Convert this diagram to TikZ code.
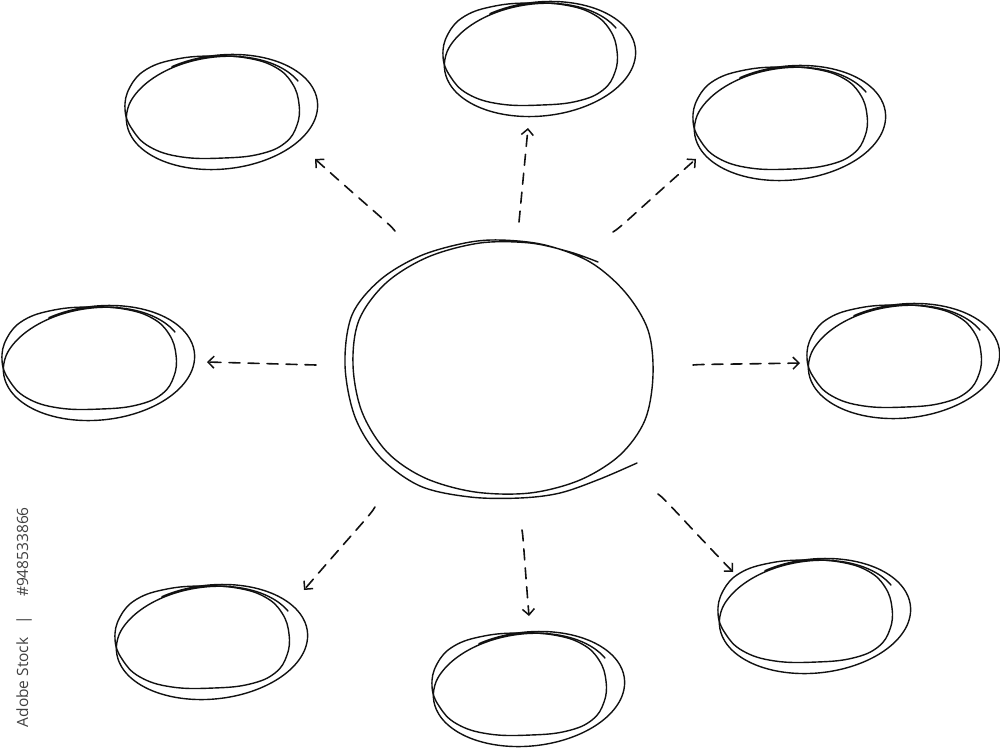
\documentclass[tikz,border=0pt]{standalone}
\usepackage{fontspec}
\newfontfamily\wmfont{Open Sans}
\usetikzlibrary{arrows.meta,shapes.geometric,calc}
\definecolor{inkc}{HTML}{111111}
\definecolor{wmgray}{HTML}{404040}
\tikzset{
  ink/.style={draw=inkc, line width=1.4pt, line cap=round, line join=round},
  oval/.style={ellipse, draw=none, minimum width=174pt, minimum height=102pt, inner sep=0pt},
  hubshape/.style={ellipse, draw=none, minimum width=305pt, minimum height=256pt, inner sep=0pt},
  dasharrow/.style={draw=inkc, line width=1.6pt, line cap=round, dash pattern=on 11pt off 8pt,
     -{Straight Barb[length=6pt,width=12pt,line width=1.5pt]}},
  sketchoval/.pic={
    \draw[ink] plot[smooth cycle, tension=0.7] coordinates {
      (-87,2) (-82,-20) (-65,-38) (-35,-48) (0,-51) (35,-49) (63,-40) (80,-24) (87,-3)
      (85,18) (73,36) (48,47) (12,51) (-30,50) (-62,40) (-80,22)};
    \draw[ink] plot[domain=-118:335, samples=110, smooth, variable=\t]
      ({10 + 0.9945*(96-0.067*max(0,\t-200))*cos(\t) + 0.1045*(57-0.022*max(0,\t-200))*sin(\t)},
       {5 - 0.1045*(96-0.067*max(0,\t-200))*cos(\t) + 0.9945*(57-0.022*max(0,\t-200))*sin(\t)});
  }
}
\newcommand{\hookarrow}[3]{%
  \draw[dasharrow] (#1) .. controls ($(#1)!0.08!#3:(#2)$) and ($(#1)!0.3!(#2)$) .. (#2);}
\begin{document}
\begin{tikzpicture}[x=1pt,y=-1pt]
\useasboundingbox (0,0) rectangle (1000,749);
\clip (0,0) rectangle (1000,749);

% hub
\node[hubshape] (hub) at (500,370) {};
\draw[ink] plot[smooth, tension=0.55] coordinates {
  (637,463) (600,479) (560,493) (520,498) (470,497) (420,486) (380,457) (355,417)
  (345,365) (352,315) (380,280) (420,256) (465,243) (500,240) (545,245) (590,262)
  (625,292) (648,330) (653,375) (645,420) (620,455) (580,480) (530,493) (475,492)
  (425,478) (387,452) (362,412) (353,365) (359,320) (386,283) (428,257) (480,243)
  (530,243) (570,252) (598,262)};

% satellite ovals
\node[oval] (tl) at (212,107) {};
\node[oval] (tc) at (530,54) {};
\node[oval] (tr) at (780,118) {};
\node[oval] (ml) at (89,358) {};
\node[oval] (mr) at (894,356) {};
\node[oval] (bl) at (202,637) {};
\node[oval] (bc) at (519,684) {};
\node[oval] (br) at (805,611) {};
\foreach \n in {tl,tc,tr,ml,mr,bl,bc,br} { \pic at (\n.center) {sketchoval}; }

% arrow end points
\coordinate (tlA) at (395,231); \coordinate (tlB) at (315,159);
\coordinate (tcA) at (519,222); \coordinate (tcB) at (528,128);
\coordinate (trA) at (613,232); \coordinate (trB) at (696,159);
\coordinate (mlA) at (316,365); \coordinate (mlB) at (207,362);
\coordinate (mrA) at (693,365); \coordinate (mrB) at (800,363);
\coordinate (blA) at (375,507); \coordinate (blB) at (304,590);
\coordinate (bcA) at (522,530); \coordinate (bcB) at (529,616);
\coordinate (brA) at (658,494); \coordinate (brB) at (733,572);

\hookarrow{tlA}{tlB}{-12}
\hookarrow{tcA}{tcB}{0}
\hookarrow{trA}{trB}{-12}
\hookarrow{mlA}{mlB}{0}
\hookarrow{mrA}{mrB}{5}
\hookarrow{blA}{blB}{12}
\hookarrow{bcA}{bcB}{6}
\hookarrow{brA}{brB}{12}

% watermark
\node[rotate=90, anchor=base east, inner sep=0pt, text=wmgray, font=\wmfont\fontsize{15.5}{15.5}\selectfont] (wm) at (28,507) {Adobe Stock\hspace{13pt}|\hspace{19pt}\#948533866};
\end{tikzpicture}
\end{document}
